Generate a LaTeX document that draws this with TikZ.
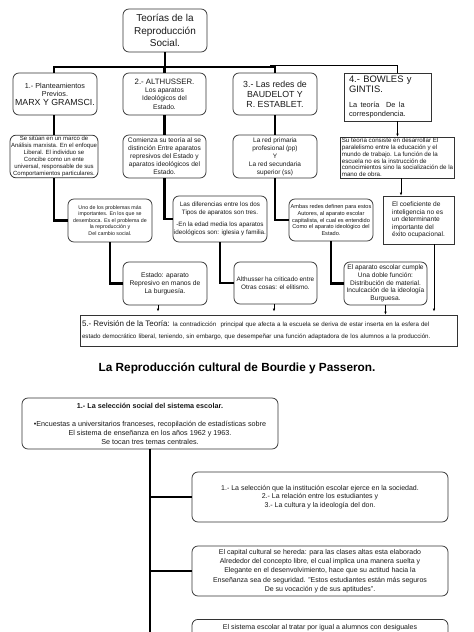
\documentclass[tikz,border=0pt]{standalone}
\usepackage{fontspec}
\setmainfont{Liberation Sans}
\usetikzlibrary{arrows.meta}
\newcommand\fsz[2]{\fontsize{#1}{#2}\selectfont}
\begin{document}
\begin{tikzpicture}[x=1pt,y=-1pt,
  wh/.style 2 args={minimum width=#1pt, minimum height=#2pt},
  rbox/.style={draw=black!80, line width=0.75pt, rounded corners=6pt, fill=white, inner sep=1pt, align=center, text=black!90},
  sbox/.style={draw=black!80, line width=0.75pt, fill=white, inner sep=1pt, text=black!90},
  thk/.style={line width=2.9pt, black},
  thn/.style={line width=0.75pt, black},
  arr/.style={line width=0.75pt, black, -{Latex[length=3pt,width=2.6pt]}},
]
\path[use as bounding box, fill=white] (0,0) rectangle (474,632);
\clip (0,0) rectangle (474,632);

% top row
\node[rbox, wh={84}{43}, font=\fsz{10}{12.5}] (title) at (165,30.5) {Teorías de la\\Reproducción\\Social.};
\node[rbox, wh={84}{42}, font=\fsz{7.2}{8.5}] (b1) at (55,94) {1.- Planteamientos\\Previos.\\{\fsz{8.8}{10}MARX Y GRAMSCI.}};
\node[rbox, wh={83}{42}, font=\fsz{6.7}{8.3}] (b2) at (164.5,94) {{\fsz{7.8}{9}2.- ALTHUSSER.}\\Los aparatos\\Ideológicos del\\Estado.};
\node[rbox, wh={84}{42}, font=\fsz{8.8}{10}] (b3) at (275,94) {3.- Las redes de\\BAUDELOT Y\\R. ESTABLET.};
\node[sbox, wh={87}{48}, inner xsep=5pt, text width=77pt, align=left] (b4) at (387.5,97) {\fsz{9.4}{10.3}4.- BOWLES y\\GINTIS.\par\vspace{6pt}\fsz{7.4}{9}La teoría~ De la\\correspondencia.\par};

% second row
\node[rbox, wh={84}{41}, font=\fsz{6}{7}] (s1) at (54,156.5) {Se sitúan en un marco de\\Análisis marxista. En el enfoque\\Liberal. El individuo se\\Concibe como un ente\\universal, responsable de sus\\Comportamientos particulares.};
\node[rbox, wh={83}{43}, font=\fsz{6.6}{8}] (s2) at (164.5,156.5) {Comienza su teoría al se\\distinción Entre aparatos\\represivos del Estado y\\aparatos ideológicos del\\Estado.};
\node[rbox, wh={84}{43}, font=\fsz{6.5}{8}] (s3) at (275,156.5) {La red primaria\\profesional (pp)\\Y\\La red secundaria\\superior (ss)};
\node[sbox, wh={113}{41}, align=left, font=\fsz{6.2}{6.8}] (s4) at (397.5,157.5) {Su teoría consiste en desarrollar El\\paralelismo entre la educación y el\\mundo de trabajo. La función de la\\escuela no es la instrucción de\\conocimientos sino la socialización de la\\mano de obra.};

% third row
\node[rbox, wh={84}{43}, font=\fsz{5.3}{6.5}] (u1) at (110,220.5) {Uno de los problemas más\\importantes. En los que se\\desemboca. Es el problema de\\la reproducción y\\Del cambio social.};
\node[rbox, wh={86}{46}, font=\fsz{6.3}{8.2}] (u2) at (220,219) {Las diferencias entre los dos\\Tipos de aparatos son tres.\\[4pt]-En la edad media los aparatos\\ideológicos son: iglesia y familia.};
\node[rbox, wh={84}{42}, font=\fsz{5.6}{6.9}] (u3) at (331,220) {Ambas redes definen para estos\\Autores, al aparato escolar\\capitalista, el cual es entendido\\Como el aparato ideológico del\\Estado.};
\node[sbox, wh={71}{48}, align=left, font=\fsz{6.6}{7.5}] (u4) at (418.5,220) {El coeficiente de\\inteligencia no es\\un determinante\\importante del\\éxito ocupacional.};

% fourth row
\node[rbox, wh={84}{43}, font=\fsz{6.7}{7.8}] (e1) at (165,283.5) {Estado: aparato\\Represivo en manos de\\La burguesía.};
\node[rbox, wh={83}{42}, font=\fsz{6.4}{8}] (e2) at (275.5,283) {Althusser ha criticado entre\\Otras cosas: el elitismo.};
\node[rbox, wh={83}{43}, font=\fsz{6.6}{7.7}] (e3) at (385.5,283.5) {El aparato escolar cumple\\Una doble función:\\Distribución de material.\\Inculcación de la ideología\\Burguesa.};

% revision
\node[sbox, wh={377}{31}, inner xsep=2pt, text width=373pt, align=left, font=\fsz{6.2}{12}] (rev) at (268.5,330.5) {\mbox{{\fsz{8}{12}5.- Revisión de la Teoría:} la contradicción\ \ principal que afecta a la escuela se deriva de estar inserta en la esfera del}\\\mbox{estado democrático liberal, teniendo, sin embargo, que desempeñar una función adaptadora de los alumnos a la producción.}};

% second part
\node[font=\bfseries\fsz{11.8}{14}] (t2) at (237,368) {La Reproducción cultural de Bourdie y Passeron.};
\node[rbox, wh={256}{51}, inner sep=0.5pt, font=\fsz{7.2}{8.7}] (c1) at (150,423.5) {{\bfseries 1.- La selección social del sistema escolar.}\\[10pt]•Encuestas a universitarios franceses, recopilación de estadísticas sobre\\El sistema de enseñanza en los años 1962 y 1963.\\Se tocan tres temas centrales.};
\node[rbox, wh={256}{50}, font=\fsz{7}{8.3}] (c2) at (320,497) {1.- La selección que la institución escolar ejerce en la sociedad.\\2.- La relación entre los estudiantes y\\3.- La cultura y la ideología del don.};
\node[rbox, wh={256}{50}, inner sep=0.5pt, font=\fsz{7}{9.4}] (c3) at (320,571) {El capital cultural se hereda: para las clases altas esta elaborado\\Alrededor del concepto libre, el cual implica una manera suelta y\\Elegante en el desenvolvimiento, hace que su actitud hacia la\\Enseñanza sea de seguridad. "Estos estudiantes están más seguros\\De su vocación y de sus aptitudes".};
\node[rbox, minimum width=256pt, minimum height=30pt, inner xsep=3pt, inner ysep=5pt, anchor=north, font=\fsz{7}{9.4}] (c4) at (320,619) {El sistema escolar al tratar por igual a alumnos con desiguales\\[12pt]};

% connectors
\coordinate (barL) at (54,67);
\coordinate (thinL) at (270,65.8);
\draw[thk] (title.south) -- (title.south |- barL);
\draw[thk] (s1.north |- b1.north) -- (s1.north |- barL) -- (b3.north |- barL) -- (b3.north);
\draw[thk] (b2.north) -- (b2.north |- barL);
\draw[thn] (thinL) -| (s4.north |- b4.north);

\draw[thk] (s1.north |- b1.south) -- (s1.north);
\draw[thk] (b2.south) -- (s2.north);
\draw[thk] (b3.south) -- (s3.north);
\draw[arr] (s4.north |- b4.south) -- (s4.north);

\draw[thk] (s1.south) |- (u1.west);
\draw[thk] (s2.south) |- (u2.west);
\draw[thk] (s3.south) |- (u3.west);
\coordinate (k401) at (401,0);
\draw[arr] (s4.south -| k401) -- (u4.north -| k401);

\draw[thk] (u1.south) |- (e1.west);
\draw[thk] (u2.south) |- (e2.west);
\draw[thk] (u3.south) |- (e3.west);

\coordinate (e1t) at (158,311.5);
\coordinate (e2t) at (274,311.5);
\coordinate (u4t) at (434,311.5);
\draw[arr] (e1.south -| e1t) -- (e1t);
\draw[arr] (e2.south -| e2t) -- (e2t);
\draw[arr] (e3.south) -- (e3.south |- rev.north);
\draw[arr] (u4.south -| u4t) -- (u4t);

\coordinate (trunkEnd) at (150,640);
\draw[thk] (c1.south) -- (c1.south |- trunkEnd);
\draw[thk] (c1.south |- c2.west) -- (c2.west);
\draw[thk] (c1.south |- c3.west) -- (c3.west);
\end{tikzpicture}
\end{document}
